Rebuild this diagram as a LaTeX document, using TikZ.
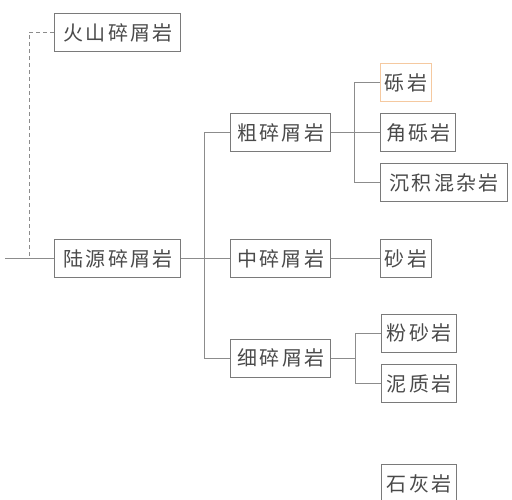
\documentclass[tikz,border=0pt]{standalone}
\usepackage{fontspec}
\newfontfamily\cjk[LetterSpace=12]{Noto Sans CJK SC}
\definecolor{txt}{HTML}{4A4A4A}
\definecolor{edge}{HTML}{7A7A7A}
\definecolor{wire}{HTML}{8C8C8C}
\definecolor{hl}{HTML}{F5C9A0}
\begin{document}
\begin{tikzpicture}[x=1pt,y=-1pt,
  rock/.style={draw=edge,line width=1pt,inner sep=0pt,minimum height=38pt,
    text=txt,font=\cjk\fontsize{20}{20}\selectfont,anchor=center},
  w2/.style={minimum width=51pt},
  w3/.style={minimum width=75pt},
  w4/.style={minimum width=100pt},
  w5/.style={minimum width=126pt},
  wire/.style={draw=wire,line width=1pt}]
\useasboundingbox (0,0) rectangle (512,500);
\node[rock,w5] (huo) at (117.5,32.5) {\hspace{1.2pt}火山碎屑岩};
\node[rock,w5] (lu) at (117.5,258.5) {\hspace{1.2pt}陆源碎屑岩};
\node[rock,w4] (cu) at (280,132.5) {\hspace{1.2pt}粗碎屑岩};
\node[rock,w4] (zhong) at (280,258.5) {\hspace{1.2pt}中碎屑岩};
\node[rock,w4] (xi) at (280.5,358) {\hspace{1.2pt}细碎屑岩};
\node[rock,w2,draw=hl] (li) at (405.5,82.5) {\hspace{1.2pt}砾岩};
\node[rock,w3] (jiao) at (418,132.5) {\hspace{1.2pt}角砾岩};
\node[rock,minimum width=127pt] (hun) at (443.5,183) {\hspace{1.2pt}沉积混杂岩};
\node[rock,w2] (sha) at (405.5,258.5) {\hspace{1.2pt}砂岩};
\node[rock,w3] (fen) at (418.5,333) {\hspace{1.2pt}粉砂岩};
\node[rock,w3] (ni) at (418.5,383.5) {\hspace{1.2pt}泥质岩};
\node[rock,w3] (shi) at (418.5,483.5) {\hspace{1.2pt}石灰岩};
\coordinate (root) at (5,258.5);
\draw[wire] (root) -- (lu.west);
\draw[wire,dashed,dash pattern=on 4pt off 3pt] (huo.west) -| ([xshift=-25pt]lu.west);
\draw[wire] (lu.east) -- (zhong.west);
\draw[wire] (cu.west) -- ([xshift=-25pt]cu.west) |- (xi.west);
\draw[wire] (li.west) -- ([xshift=-25pt]li.west) |- (hun.west);
\draw[wire] (cu.east) -- (jiao.west);
\draw[wire] (zhong.east) -- (sha.west);
\draw[wire] (fen.west) -- ([xshift=-25pt]fen.west) |- (ni.west);
\draw[wire] (xi.east) -- ([xshift=-25pt]fen.west |- xi.east);
\end{tikzpicture}
\end{document}
